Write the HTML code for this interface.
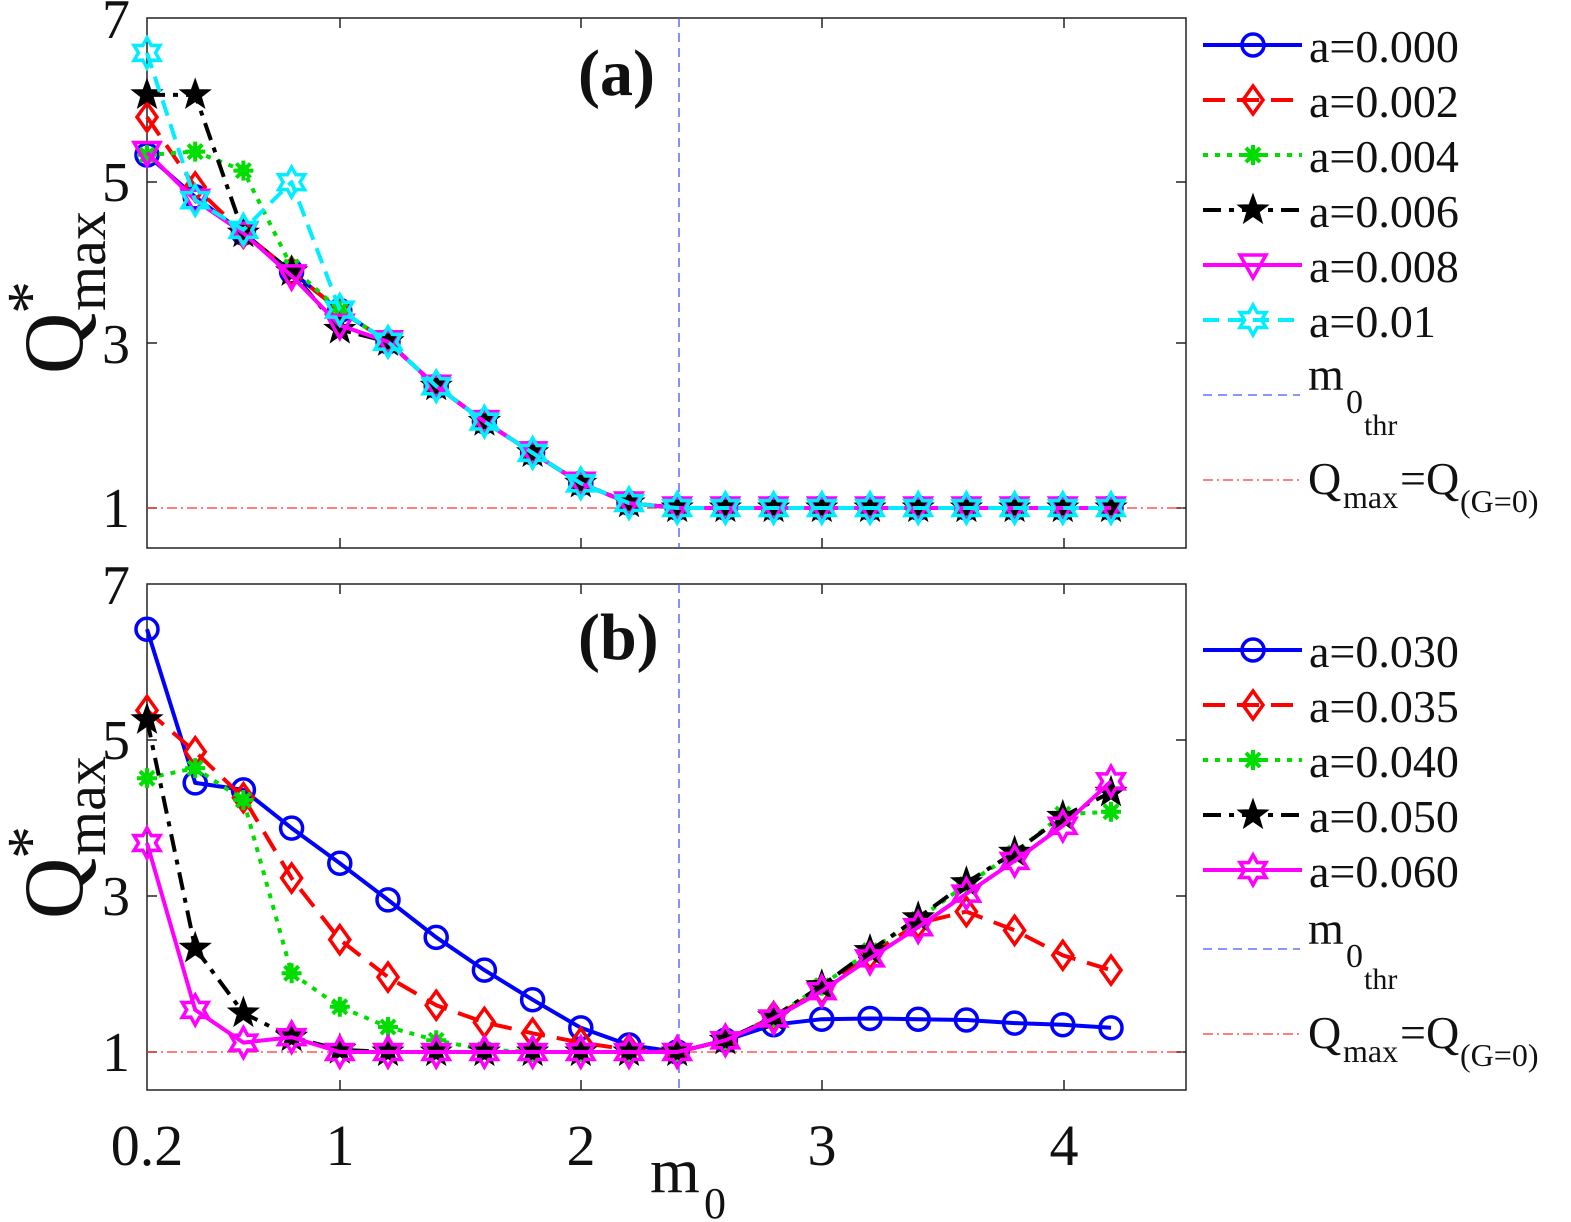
<!DOCTYPE html>
<html><head><meta charset="utf-8"><style>
html,body{margin:0;padding:0;background:#fff;}
svg{display:block;font-family:"Liberation Serif",serif;}
</style></head><body>
<svg id="s" width="1571" height="1222" viewBox="0 0 1571 1222" xmlns="http://www.w3.org/2000/svg">
<rect width="1571" height="1222" fill="#fff"/>
<rect x="147" y="18" width="1039" height="530" fill="none" stroke="#222" stroke-width="1.5"/>
<rect x="147" y="584" width="1039" height="506" fill="none" stroke="#222" stroke-width="1.5"/>
<g stroke="#222" stroke-width="1.5">
<line x1="147" y1="508" x2="157" y2="508"/><line x1="147" y1="343" x2="157" y2="343"/><line x1="147" y1="182" x2="157" y2="182"/>
<line x1="1186" y1="508" x2="1176" y2="508"/><line x1="1186" y1="343" x2="1176" y2="343"/><line x1="1186" y1="182" x2="1176" y2="182"/>
<line x1="147" y1="1052" x2="157" y2="1052"/><line x1="147" y1="896" x2="157" y2="896"/><line x1="147" y1="740" x2="157" y2="740"/>
<line x1="1186" y1="1052" x2="1176" y2="1052"/><line x1="1186" y1="896" x2="1176" y2="896"/><line x1="1186" y1="740" x2="1176" y2="740"/>
<line x1="340" y1="548" x2="340" y2="538"/><line x1="581" y1="548" x2="581" y2="538"/><line x1="822" y1="548" x2="822" y2="538"/><line x1="1064" y1="548" x2="1064" y2="538"/>
<line x1="340" y1="18" x2="340" y2="28"/><line x1="581" y1="18" x2="581" y2="28"/><line x1="822" y1="18" x2="822" y2="28"/><line x1="1064" y1="18" x2="1064" y2="28"/>
<line x1="340" y1="1090" x2="340" y2="1080"/><line x1="581" y1="1090" x2="581" y2="1080"/><line x1="822" y1="1090" x2="822" y2="1080"/><line x1="1064" y1="1090" x2="1064" y2="1080"/>
<line x1="340" y1="584" x2="340" y2="594"/><line x1="581" y1="584" x2="581" y2="594"/><line x1="822" y1="584" x2="822" y2="594"/><line x1="1064" y1="584" x2="1064" y2="594"/>
</g>
<line x1="679" y1="18" x2="679" y2="548" stroke="#4455ff" stroke-width="1.3" stroke-dasharray="9,6"/>
<line x1="679" y1="584" x2="679" y2="1090" stroke="#4455ff" stroke-width="1.3" stroke-dasharray="9,6"/>
<line x1="147" y1="508" x2="1186" y2="508" stroke="#ff3333" stroke-width="1.3" stroke-dasharray="10,4,2,4"/>
<line x1="147" y1="1052" x2="1186" y2="1052" stroke="#ff3333" stroke-width="1.3" stroke-dasharray="10,4,2,4"/>
<g font-size="56" fill="#111" text-anchor="end">
<text x="130" y="38">7</text><text x="130" y="201">5</text><text x="130" y="363">3</text><text x="130" y="527">1</text>
<text x="130" y="604">7</text><text x="130" y="759">5</text><text x="130" y="915">3</text><text x="130" y="1071">1</text>
</g>
<g font-size="58" fill="#111" text-anchor="middle">
<text x="147" y="1165">0.2</text><text x="340" y="1165">1</text><text x="581" y="1165">2</text><text x="822" y="1165">3</text><text x="1064" y="1165">4</text>
</g>
<text x="650" y="1192" font-size="64" fill="#111">m</text><text x="704" y="1218" font-size="44" fill="#111">0</text>
<g transform="translate(82,0) rotate(-90)" fill="#111"><text x="-374" y="0" font-size="85">Q</text><text x="-311" y="23" font-size="58">max</text><text x="-314" y="-30" font-size="66">*</text></g>
<g transform="translate(82,545) rotate(-90)" fill="#111"><text x="-374" y="0" font-size="85">Q</text><text x="-311" y="23" font-size="58">max</text><text x="-314" y="-30" font-size="66">*</text></g>
<text x="578" y="95" font-size="66" font-weight="bold" fill="#111">(a)</text>
<text x="578" y="659" font-size="66" font-weight="bold" fill="#111">(b)</text>
<g id="plots"></g>
<g font-size="46" fill="#111">
<text x="1309" y="62">a=0.000</text><text x="1309" y="117">a=0.002</text><text x="1309" y="172">a=0.004</text><text x="1309" y="227">a=0.006</text><text x="1309" y="282">a=0.008</text><text x="1309" y="337">a=0.01</text>
<text x="1309" y="667">a=0.030</text><text x="1309" y="722">a=0.035</text><text x="1309" y="777">a=0.040</text><text x="1309" y="832">a=0.050</text><text x="1309" y="887">a=0.060</text>
</g>
<g fill="#111">
<text x="1308" y="390" font-size="46">m</text><text x="1346" y="413" font-size="34">0</text><text x="1364" y="435" font-size="30">thr</text>
<text x="1308" y="494" font-size="46">Q</text><text x="1343" y="508" font-size="32">max</text><text x="1400" y="494" font-size="46">=Q</text><text x="1460" y="512" font-size="32">(G=0)</text>
<text x="1308" y="944" font-size="46">m</text><text x="1346" y="967" font-size="34">0</text><text x="1364" y="989" font-size="30">thr</text>
<text x="1308" y="1048" font-size="46">Q</text><text x="1343" y="1062" font-size="32">max</text><text x="1400" y="1048" font-size="46">=Q</text><text x="1460" y="1066" font-size="32">(G=0)</text>
</g>
<line x1="1203" y1="395" x2="1300" y2="395" stroke="#4455ff" stroke-width="1.3" stroke-dasharray="9,6"/>
<line x1="1203" y1="480" x2="1300" y2="480" stroke="#ff3333" stroke-width="1.3" stroke-dasharray="10,4,2,4"/>
<line x1="1203" y1="949" x2="1300" y2="949" stroke="#4455ff" stroke-width="1.3" stroke-dasharray="9,6"/>
<line x1="1203" y1="1034" x2="1300" y2="1034" stroke="#ff3333" stroke-width="1.3" stroke-dasharray="10,4,2,4"/>
</svg>
<script>
(function(){
var NS="http://www.w3.org/2000/svg",g=document.getElementById("plots");
function el(t,a){var e=document.createElementNS(NS,t);for(var k in a)e.setAttribute(k,a[k]);g.appendChild(e);return e;}
function X(m){return 147+(m-0.2)*241;}
var tail=[1,1,1,1,1,1,1,1,1];
function star(cx,cy,R,r,n,rot){var p=[];for(var i=0;i<2*n;i++){var a=rot+Math.PI*i/n,rr=i%2?r:R;p.push((cx+rr*Math.sin(a)).toFixed(1)+","+(cy-rr*Math.cos(a)).toFixed(1));}return p.join(" ");}
function marker(t,c,x,y){
 if(t=="o")el("circle",{cx:x,cy:y,r:11,fill:"none",stroke:c,"stroke-width":3.5});
 else if(t=="d")el("polygon",{points:x+","+(y-14)+" "+(x+10)+","+y+" "+x+","+(y+14)+" "+(x-10)+","+y,fill:"none",stroke:c,"stroke-width":3.5});
 else if(t=="*"){for(var i=0;i<4;i++){var a=i*Math.PI/4;el("line",{x1:x-10*Math.cos(a),y1:y-10*Math.sin(a),x2:x+10*Math.cos(a),y2:y+10*Math.sin(a),stroke:c,"stroke-width":4});}el("circle",{cx:x,cy:y,r:6,fill:c});}
 else if(t=="p")el("polygon",{points:star(x,y,16,6.5,5,0),fill:c,stroke:c,"stroke-width":1});
 else if(t=="v")el("polygon",{points:(x-13)+","+(y-10)+" "+(x+13)+","+(y-10)+" "+x+","+(y+13),fill:"none",stroke:c,"stroke-width":3.5});
 else if(t=="h")el("polygon",{points:star(x,y,15,8.5,6,0),fill:"none",stroke:c,"stroke-width":3.5});
}
function series(vals,Y,c,dash,t){
 var pts=vals.map(function(v,i){return X(0.2+0.2*i).toFixed(1)+","+Y(v).toFixed(1);}).join(" ");
 var a={points:pts,fill:"none",stroke:c,"stroke-width":4,"stroke-linejoin":"round"};if(dash)a["stroke-dasharray"]=dash;el("polyline",a);
 vals.forEach(function(v,i){marker(t,c,X(0.2+0.2*i),Y(v));});
}
function leg(y,c,dash,t){var a={x1:1203,y1:y,x2:1302,y2:y,stroke:c,"stroke-width":4};if(dash)a["stroke-dasharray"]=dash;el("line",a);marker(t,c,1253,y);}
var Ya=function(q){return 508-(q-1)*82.3;},Yb=function(q){return 1052-(q-1)*78;};
var base=[3.02,2.48,2.05,1.67,1.30,1.06,1].concat(tail);
var A=[
 [[5.29,4.78,4.34,3.87,3.40].concat(base),"#0000ff",null,"o"],
 [[5.75,4.9,4.34,3.87,3.40].concat(base),"#ff0000","22,12","d"],
 [[5.29,5.33,5.1,3.93,3.40].concat(base),"#00dd00","5,7","*"],
 [[6.02,6.02,4.34,3.87,3.17].concat(base),"#000000","18,8,5,8","p"],
 [[5.32,4.74,4.34,3.82,3.22].concat(base),"#ff00ff",null,"v"],
 [[6.53,4.74,4.38,4.96,3.41].concat(base),"#00eeff","16,9","h"]];
A.forEach(function(s){series(s[0],Ya,s[1],s[2],s[3]);});
var B=[
 [[6.42,4.45,4.36,3.87,3.42,2.95,2.47,2.05,1.67,1.31,1.09,1.0,1.15,1.35,1.42,1.43,1.42,1.41,1.37,1.35,1.31],"#0000ff",null,"o"],
 [[5.38,4.85,4.26,3.23,2.44,1.96,1.6,1.38,1.24,1.12,1.03,1.0,1.15,1.45,1.8,2.25,2.65,2.8,2.56,2.24,2.05],"#ff0000","22,12","d"],
 [[4.51,4.64,4.23,2.01,1.58,1.32,1.15,1.03,1,1,1,1,1.15,1.45,1.85,2.3,2.7,3.15,3.55,4.05,4.08],"#00dd00","5,7","*"],
 [[5.26,2.33,1.5,1.19,1.03,1,1,1,1,1,1,1,1.15,1.45,1.85,2.3,2.72,3.17,3.56,4.02,4.33],"#000000","18,8,5,8","p"],
 [[3.68,1.54,1.12,1.19,1,1,1,1,1,1,1,1,1.15,1.43,1.78,2.2,2.6,3.03,3.45,3.9,4.47],"#ff00ff",null,"h"]];
B.forEach(function(s){series(s[0],Yb,s[1],s[2],s[3]);});
A.forEach(function(s,i){leg(45+55*i,s[1],s[2],s[3]);});
B.forEach(function(s,i){leg(650+55*i,s[1],s[2],s[3]);});
})();
</script>
</body></html>
